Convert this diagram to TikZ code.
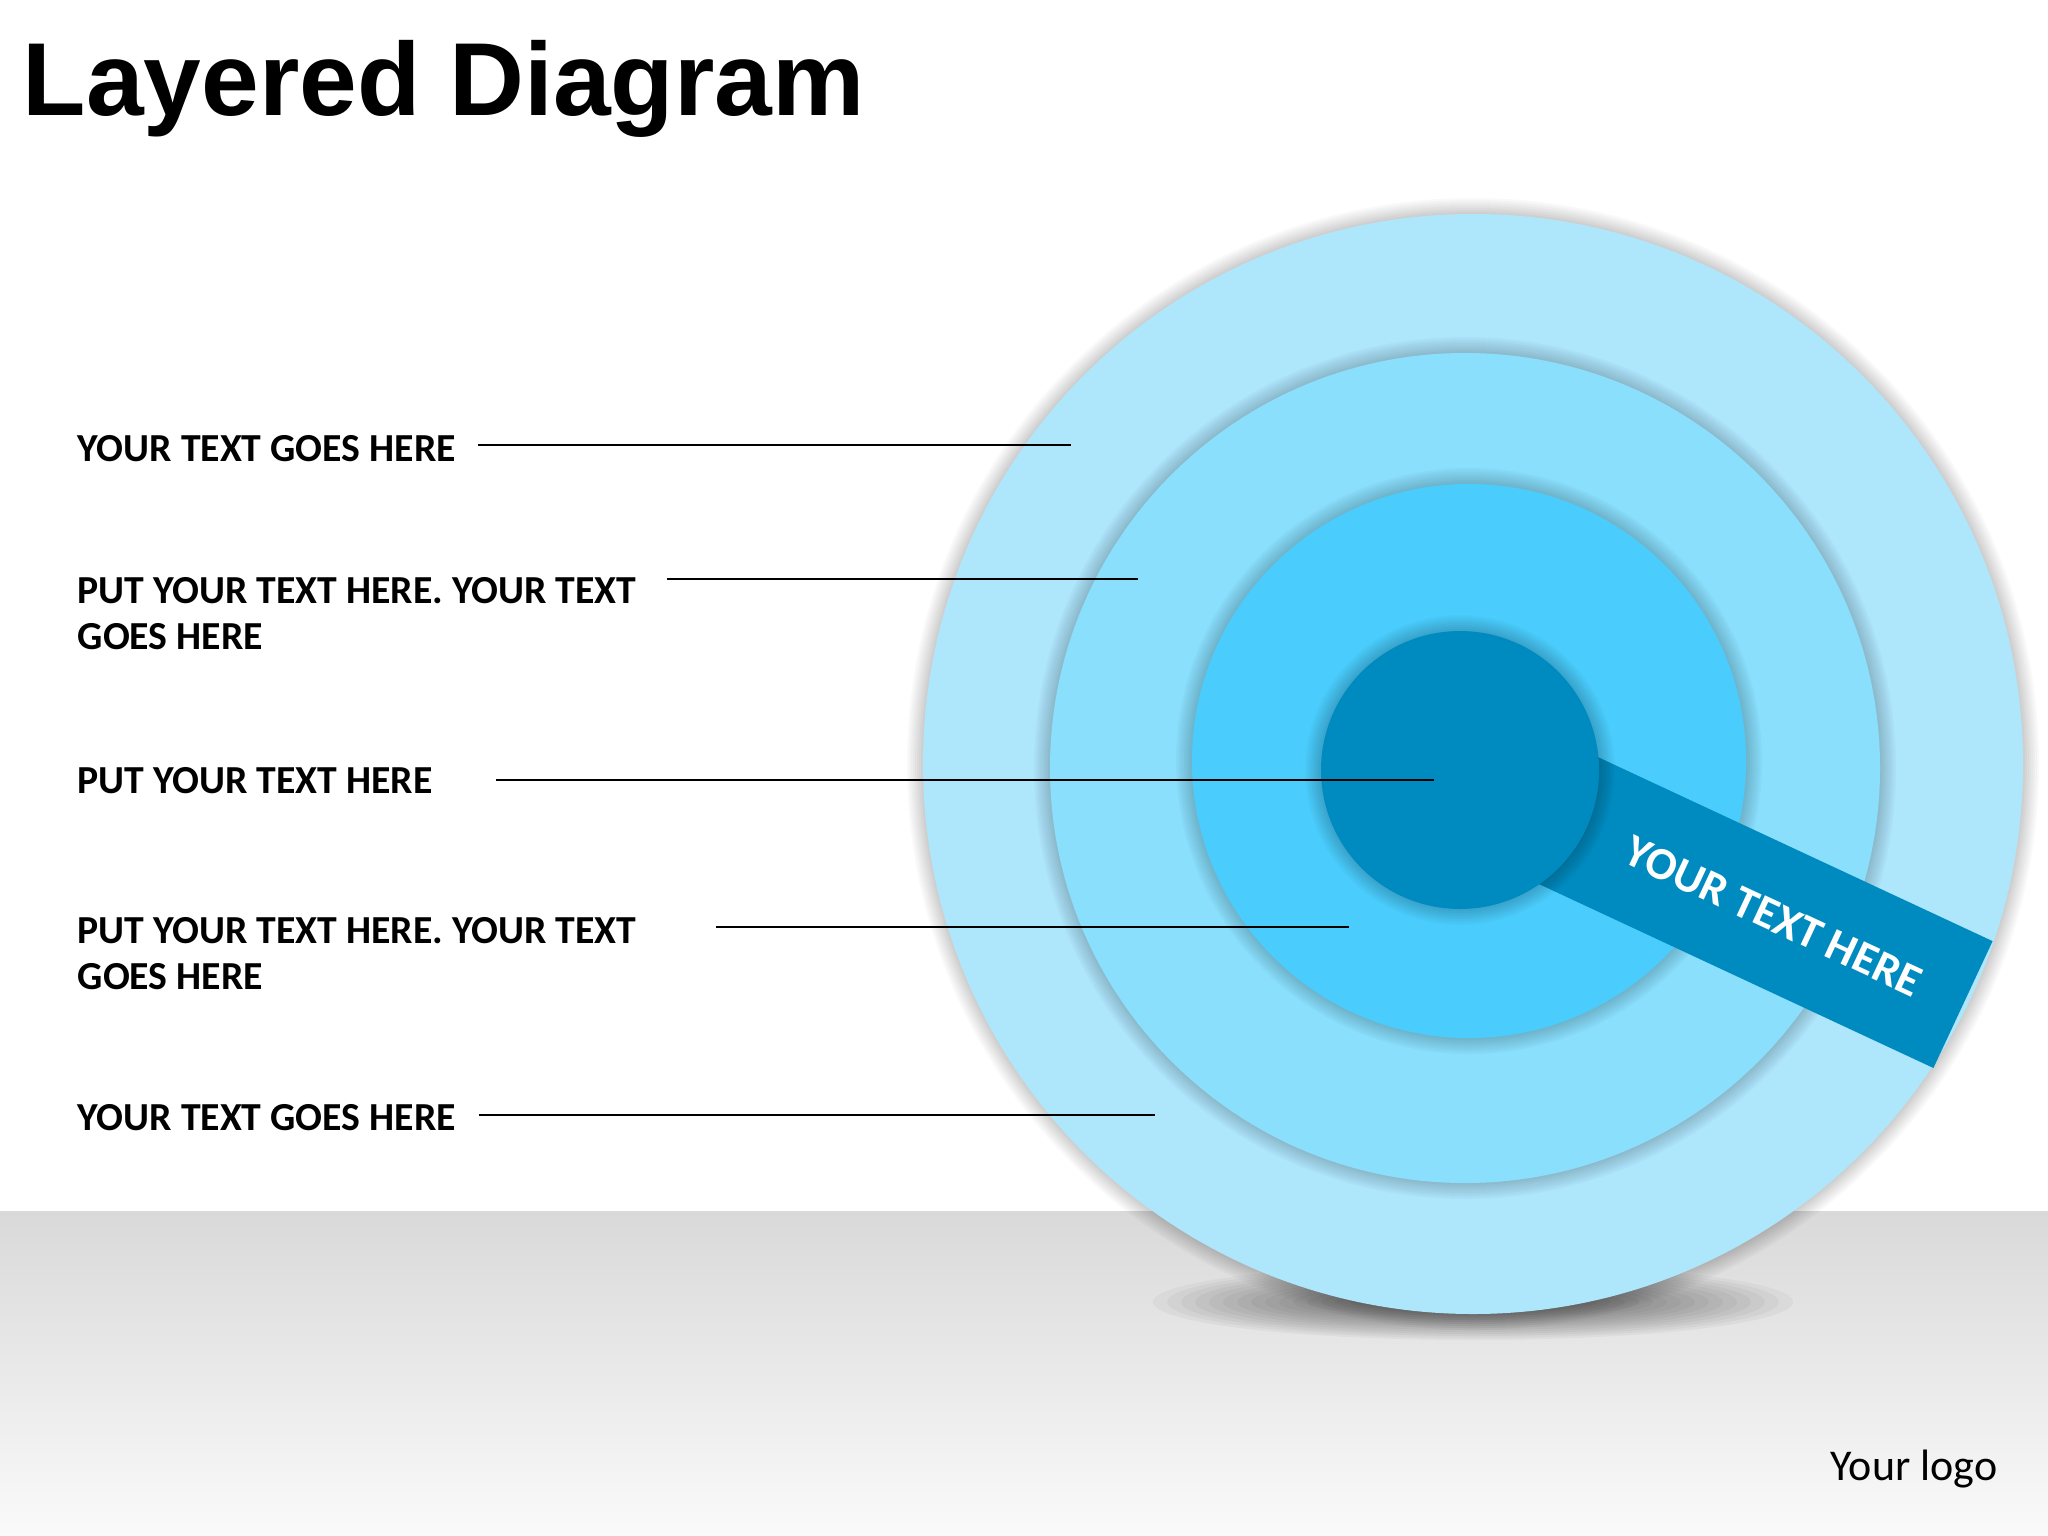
\documentclass[tikz,border=0pt]{standalone}
\usepackage{fontspec}
\setmainfont{Carlito}
\newfontfamily\titlefont{Liberation Sans}
\usetikzlibrary{positioning}

\definecolor{ringA}{HTML}{AEE6FC}
\definecolor{ringB}{HTML}{8ADFFC}
\definecolor{ringC}{HTML}{4ACDFC}
\definecolor{ringD}{HTML}{008BC0}
\definecolor{floorgray}{HTML}{D9D9D9}

\begin{document}
\begin{tikzpicture}[
    % pixel-like units, y going down
    x=0.01cm, y=-0.01cm,
    % Text styles
    label text/.style={
        anchor=north west, inner sep=0pt, align=left,
        font=\fontsize{11.3pt}{13.1pt}\selectfont\bfseries,
      },
    banner text/.style={
        inner sep=0pt, text=white, rotate=-25,
        font=\fontsize{13pt}{15pt}\selectfont\bfseries,
      },
    % Lines and shadows
    leader/.style={draw, line width=0.7pt},
    ring shadow/.style={fill=black, opacity=0.025},
  ]
  \useasboundingbox[fill=white] (0,0) rectangle (2048,1536);

  % --- floor ---
  \shade[top color=floorgray, bottom color=white!98!black] (0,1211) rectangle (2048,1536);
  \foreach \i in {0,...,15} {
      \fill[black, opacity=0.035] (1473,1302) ellipse [x radius={320-14*\i}, y radius={38-2*\i}];
    }

  % --- rings, outer to inner ---
  \foreach \cx/\cy/\r/\col in {1473/764/550/ringA, 1465/768/415/ringB, 1469/761/277/ringC} {
      \foreach \d in {2,4,...,16} {
          \fill[ring shadow] (\cx,\cy) circle [radius={\r+\d}];
        }
      \fill[\col] (\cx,\cy) circle [radius=\r];
    }

  % --- banner from the centre ---
  \begin{scope}[shift={(1460,770)}, rotate=-25]
    \fill[ringD] (0,-70) rectangle (555,70);
    \node[banner text] (bannerlabel) at (346,0) {YOUR TEXT HERE};
  \end{scope}

  % --- core ---
  \foreach \d in {2,4,...,16} {
      \fill[ring shadow] (1460,770) circle [radius={139+\d}];
    }
  \fill[ringD] (1460,770) circle [radius=139];

  % --- labels on the left ---
  \node[label text] (label1) at (77,435) {YOUR TEXT GOES HERE};
  \node[label text] (label2) at (77,577) {PUT YOUR TEXT HERE. YOUR TEXT\\GOES HERE};
  \node[label text] (label3) at (77,767) {PUT YOUR TEXT HERE};
  \node[label text] (label4) at (77,917) {PUT YOUR TEXT HERE. YOUR TEXT\\GOES HERE};
  \node[label text] (label5) at (77,1104) {YOUR TEXT GOES HERE};

  % leader lines into the rings
  \foreach \k/\xa/\xb/\yy in {1/478/1071/445, 2/667/1138/579, 3/496/1434/780, 4/716/1349/927, 5/479/1155/1115} {
      \coordinate (lineS\k) at (\xa,\yy);
      \coordinate (lineE\k) at (\xb,\yy);
      \draw[leader] (lineS\k) -- (lineE\k);
    }

  % --- title and logo ---
  \node[anchor=base west, inner sep=0pt, font=\titlefont\bfseries\fontsize{29.5pt}{34pt}\selectfont] (title) at (22,115) {Layered Diagram};
  \node[anchor=base east, inner sep=0pt, font=\fontsize{12.5pt}{15pt}\selectfont] (logo) at (1998,1480) {Your logo};
\end{tikzpicture}
\end{document}
